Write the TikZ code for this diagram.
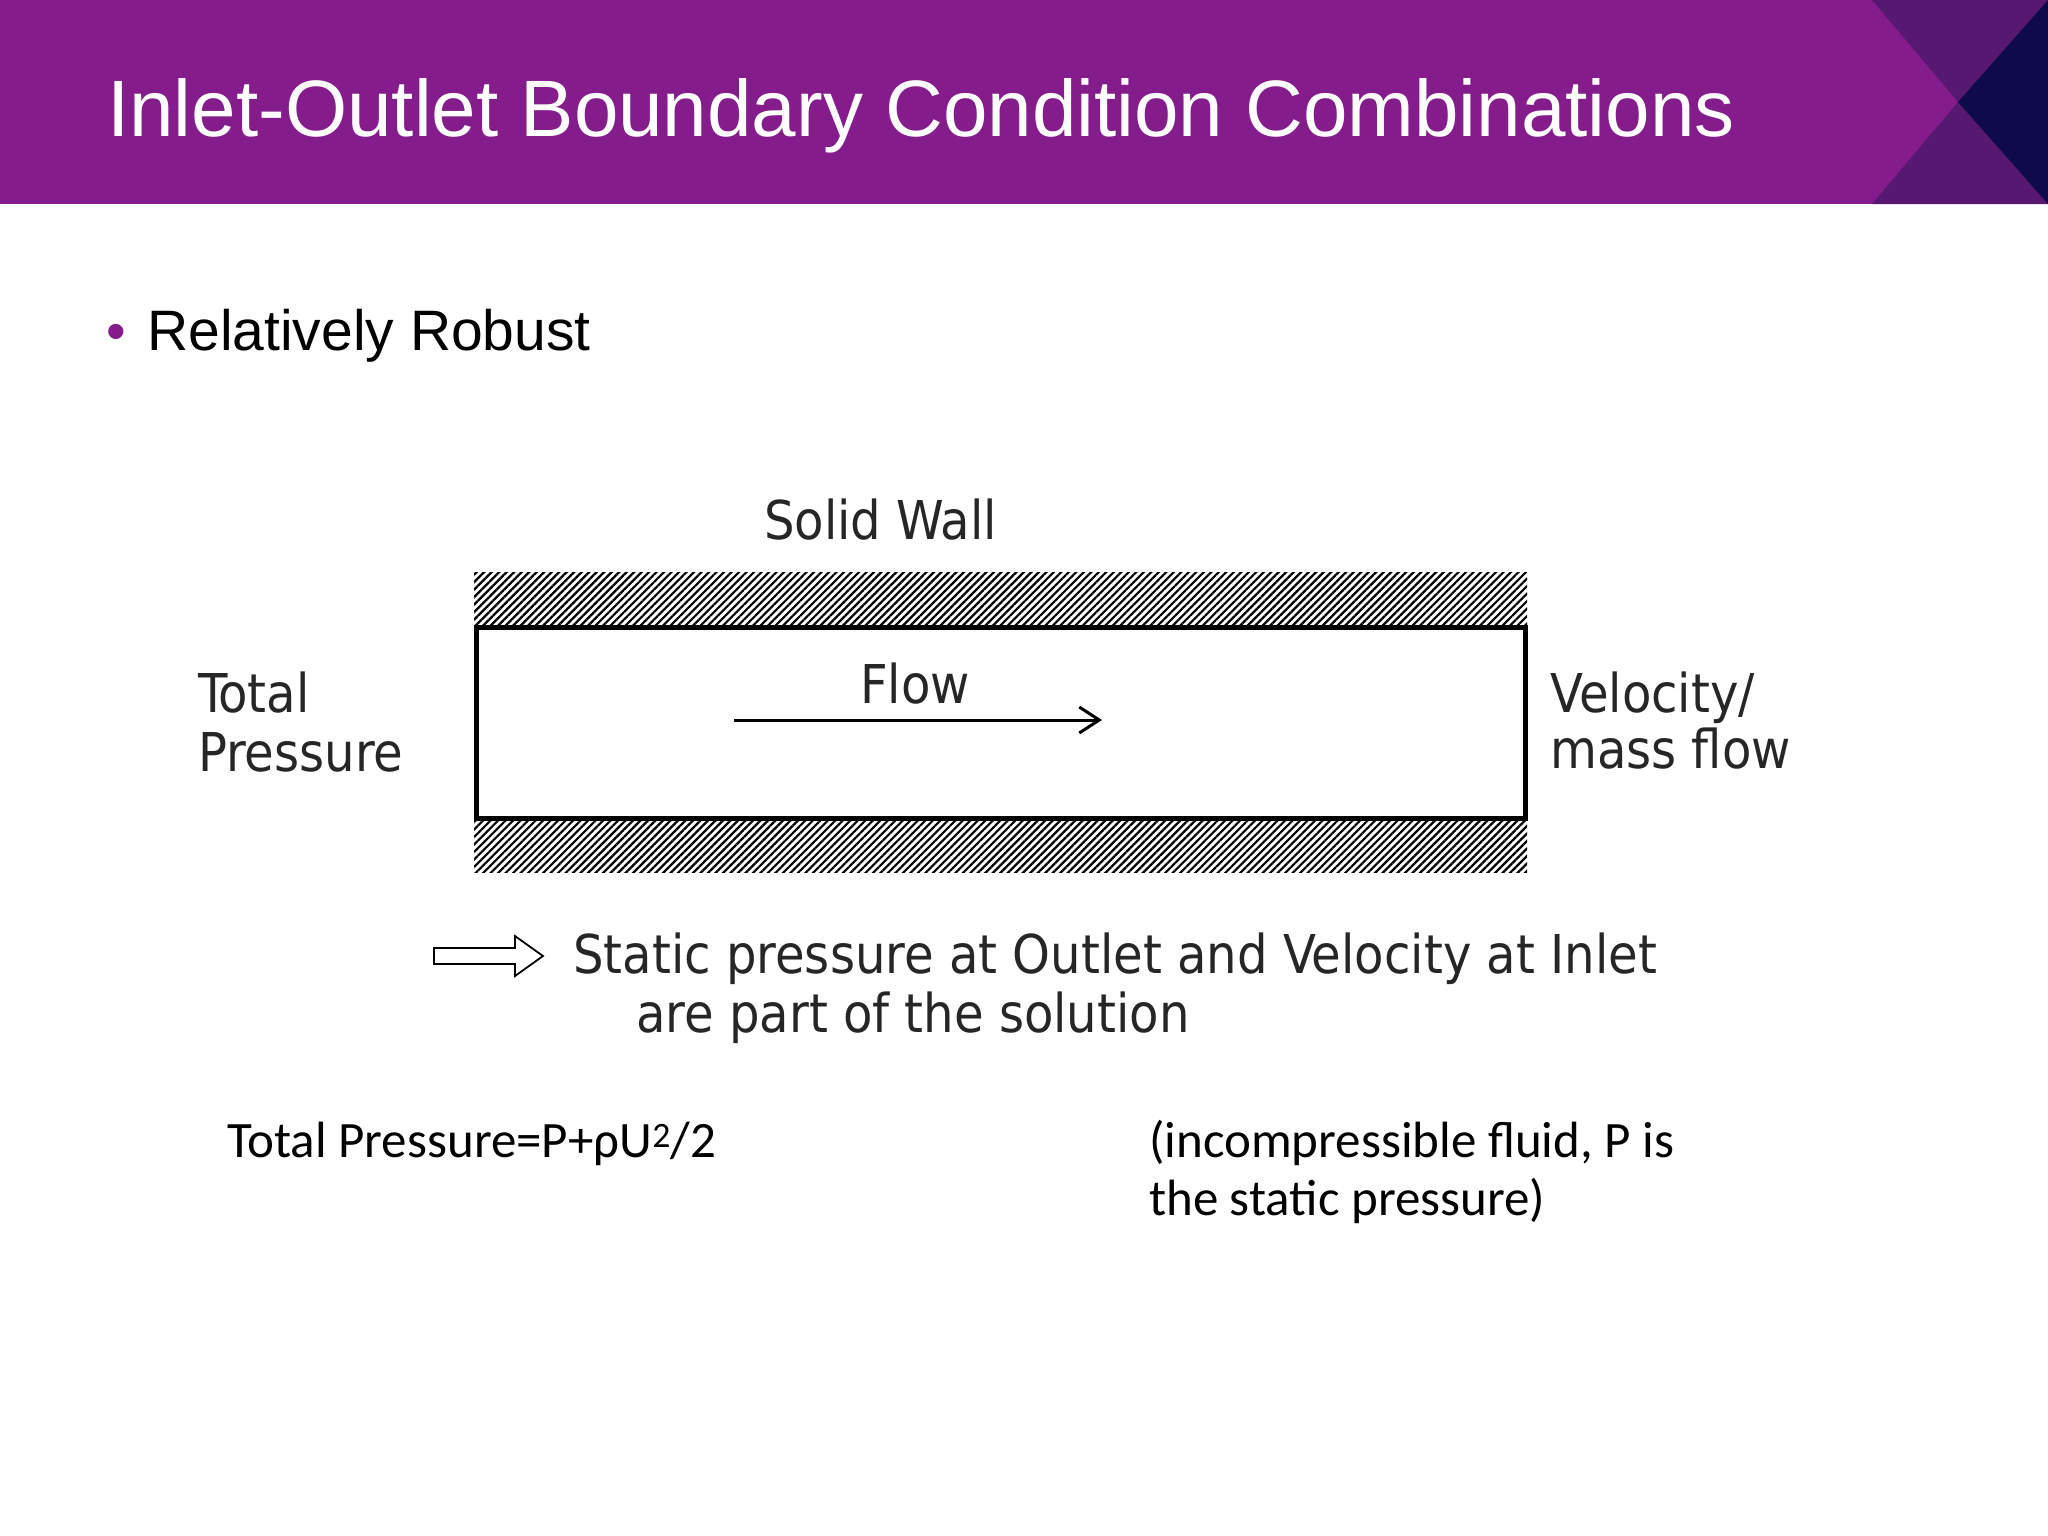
\documentclass[tikz,border=0pt]{standalone}
\usepackage{fontspec}
\setmainfont{Liberation Sans}
\newfontfamily\dv{DejaVu Sans Condensed}
\newfontfamily\cb{Carlito}
\usetikzlibrary{patterns.meta,arrows.meta}
\definecolor{hdr}{HTML}{841C8C}
\definecolor{mid}{HTML}{561870}
\definecolor{navy}{HTML}{0F0A4A}
\begin{document}
\begin{tikzpicture}[x=1pt,y=-1pt,
  txt/.style={anchor=base west,inner sep=0pt},
  dia/.style={txt,font=\dv\fontsize{53.5}{64}\selectfont,text=black!85},
  hatch/.style={pattern={Lines[angle=45,distance=5.3pt,line width=2.2pt]},draw=none}]
\useasboundingbox (0,0) rectangle (2048,1536);
\fill[white] (0,0) rectangle (2048,1536);
\fill[hdr] (0,0) rectangle (2048,204);
\fill[mid] (1872,0) -- (2048,0) -- (1958,102) -- cycle;
\fill[mid] (1872,204) -- (2048,204) -- (1958,102) -- cycle;
\fill[navy] (2048,0) -- (1958,102) -- (2048,204) -- cycle;
\node[txt,text=white,font=\fontsize{80}{92}\selectfont] (title) at (107,137) {Inlet-Outlet Boundary Condition Combinations};
\node[txt,text=hdr,font=\fontsize{56}{66}\selectfont] (bul) at (106,350) {•};
\node[txt,font=\fontsize{57}{68}\selectfont] (rob) at (147,350) {Relatively Robust};
% walls
\fill[hatch] (474,572) rectangle (1527,624);
\fill[hatch] (474,821) rectangle (1527,872);
\draw[line width=5pt] (476,627) rectangle (1525,818);
\coordinate (fa) at (734,720);
\coordinate (fb) at (1102,720);
\draw[line width=3pt,-{Straight Barb[length=20pt,width=26pt,line width=3pt]}] (fa) -- (fb);
\node[dia] (wall) at (764,539) {Solid Wall};
\node[dia] (flow) at (860,703) {Flow};
\node[dia] (tp1) at (198,712) {Total};
\node[dia] (tp2) at (198,771) {Pressure};
\node[dia] (v1) at (1550,712) {Velocity/};
\node[dia] (v2) at (1550,768) {mass flow};
% hollow arrow
\draw[line width=1.8pt,fill=white] (434,948) -- (515,948) -- (515,936) -- (543,956) -- (515,976) -- (515,964) -- (434,964) -- cycle;
\node[dia] (s1) at (573,973) {Static pressure at Outlet and Velocity at Inlet};
\node[dia] (s2) at (636,1032) {are part of the solution};
\node[txt,font=\cb\fontsize{51}{60}\selectfont] (eq) at (227,1157) {Total Pressure=P+ρU\textsuperscript{2}/2};
\node[txt,font=\cb\fontsize{51}{60}\selectfont] (n1) at (1149,1157) {(incompressible fluid, P is};
\node[txt,font=\cb\fontsize{51}{60}\selectfont] (n2) at (1149,1215) {the static pressure)};
\end{tikzpicture}
\end{document}
